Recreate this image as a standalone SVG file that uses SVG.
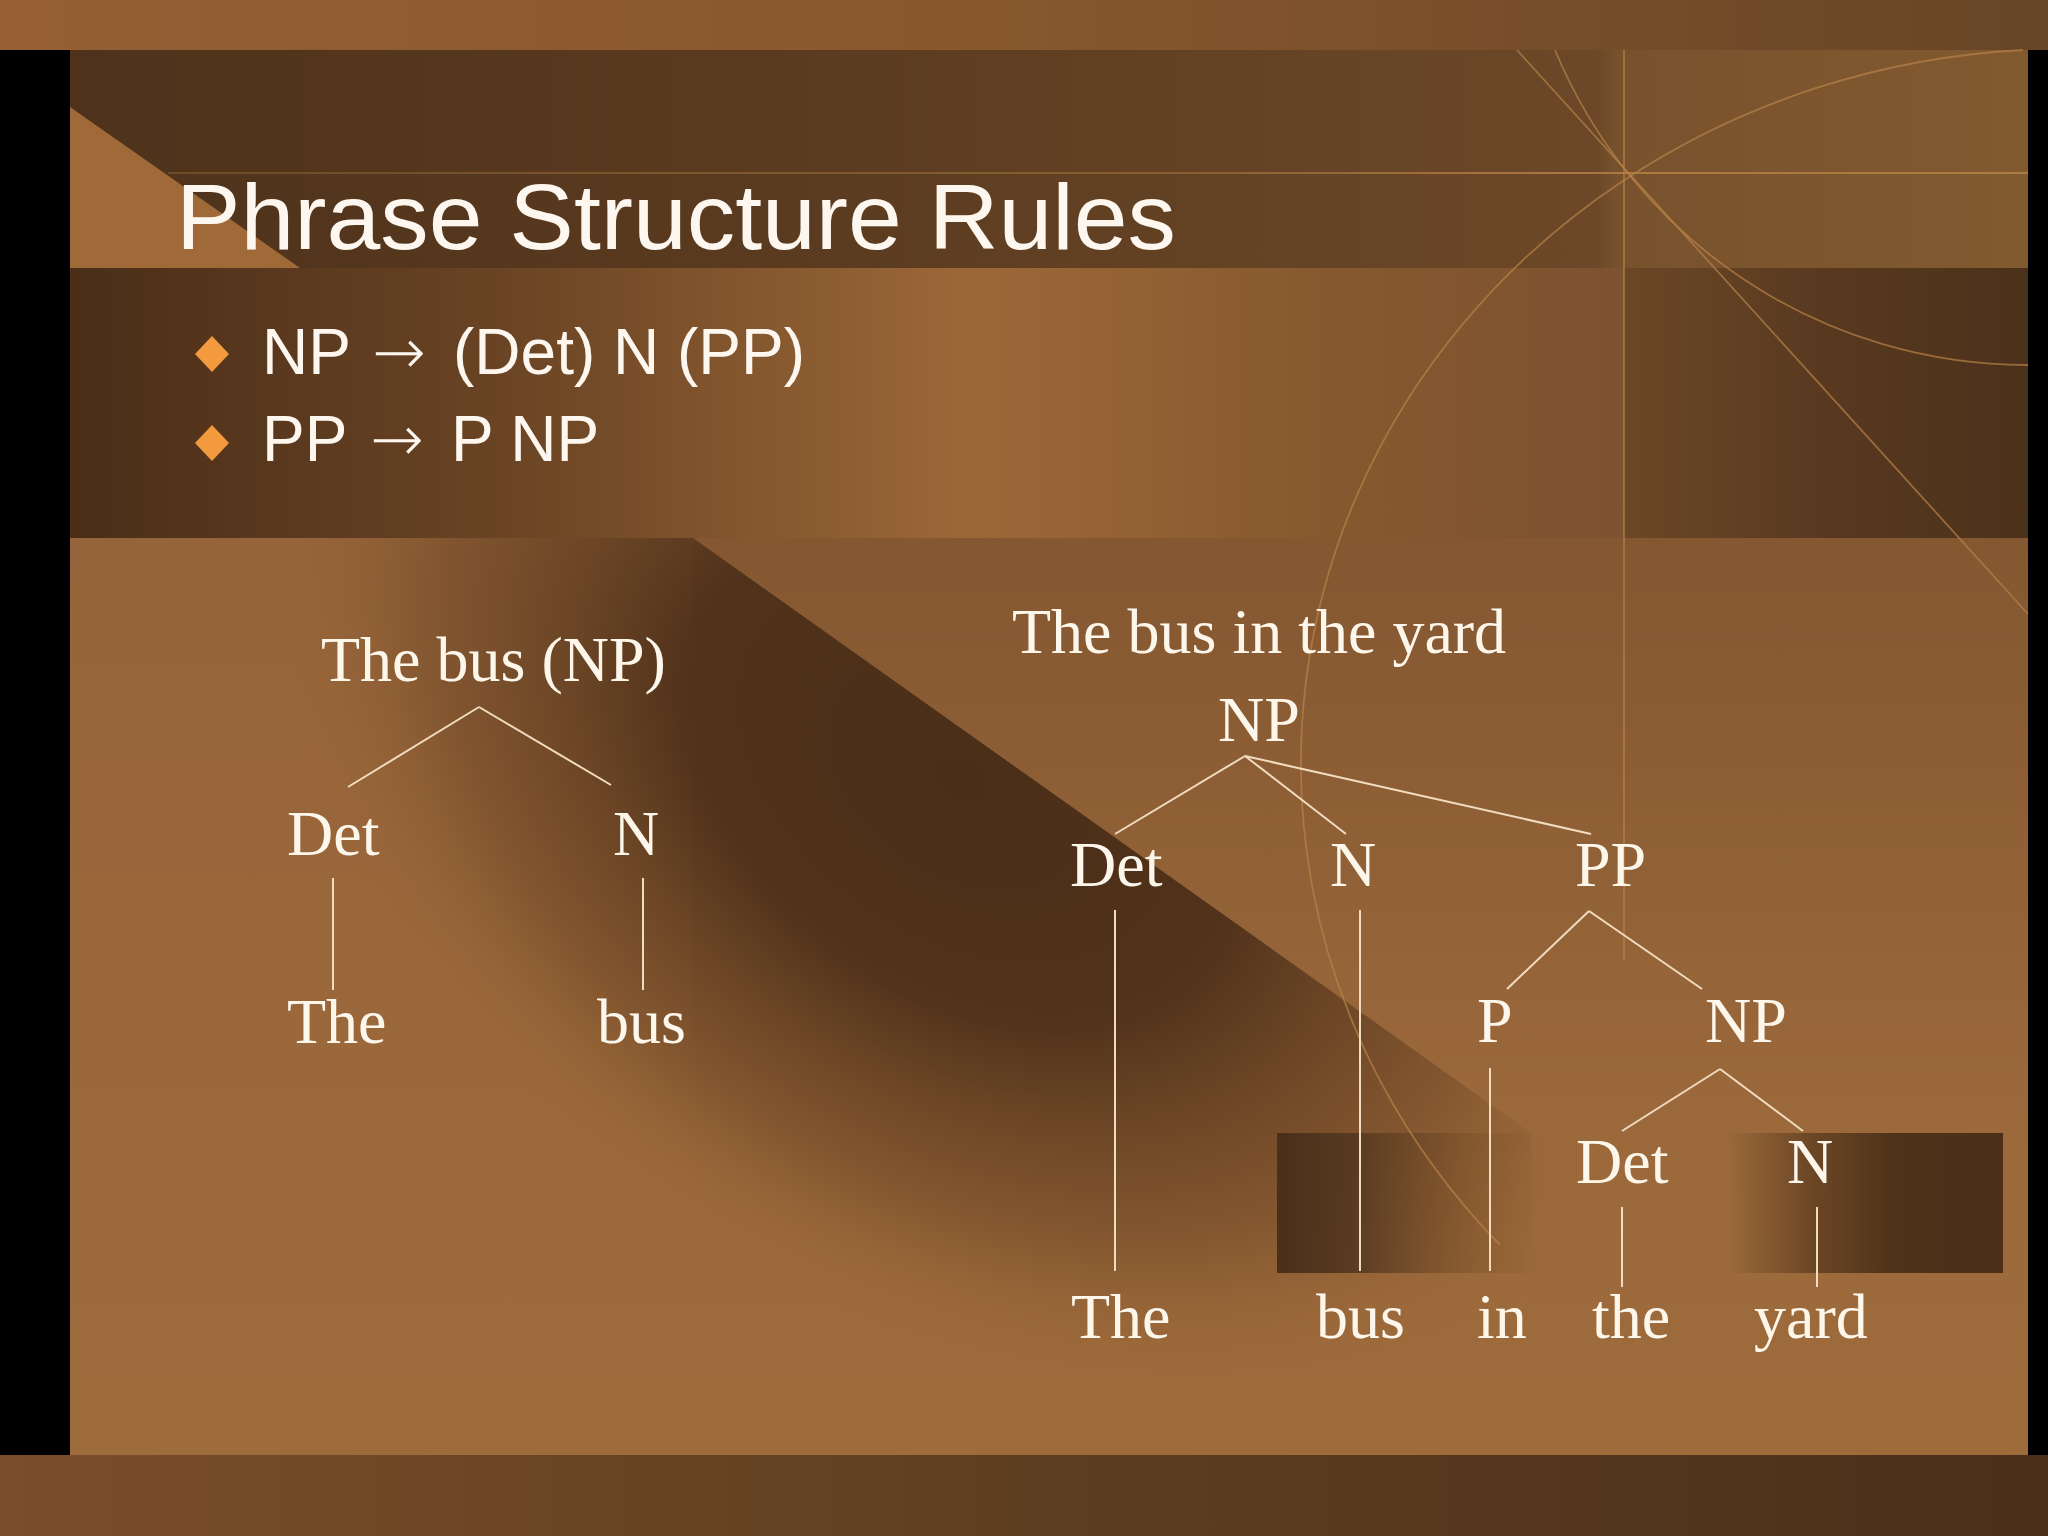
<svg xmlns="http://www.w3.org/2000/svg" width="2048" height="1536" viewBox="0 0 2048 1536">
<defs>
  <style>
    .title{font-family:"Liberation Sans",Arial,sans-serif;fill:#fdf7ef}
    .bullet{font-family:"Liberation Sans",Arial,sans-serif;font-size:64px;fill:#fdf7ef}
    .arrow{font-family:"DejaVu Sans",sans-serif;font-weight:200;font-size:64px}
    .tree{font-family:"Liberation Serif","Times New Roman",serif;font-size:64px;fill:#fdf6ea}
    .edge{stroke:#f2dcc0;stroke-width:2;fill:none}
    .deco{stroke:#b88248;stroke-width:1.8;fill:none;opacity:0.7}
  </style>
  <linearGradient id="gTop" x1="0" y1="0" x2="1" y2="0">
    <stop offset="0" stop-color="#965f34"/><stop offset="0.5" stop-color="#87572e"/><stop offset="1" stop-color="#674526"/>
  </linearGradient>
  <linearGradient id="gBottom" x1="0" y1="0" x2="1" y2="0">
    <stop offset="0" stop-color="#7a4e2a"/><stop offset="0.5" stop-color="#5e3e20"/><stop offset="1" stop-color="#4a301a"/>
  </linearGradient>
  <linearGradient id="gTitle" x1="0" y1="0" x2="1" y2="0">
    <stop offset="0" stop-color="#4e321b"/><stop offset="0.4" stop-color="#5c3c20"/><stop offset="0.78" stop-color="#6c4828"/><stop offset="0.79" stop-color="#78522d"/><stop offset="1" stop-color="#825a30"/>
  </linearGradient>
  <linearGradient id="gTitleLine" x1="168" y1="0" x2="2028" y2="0" gradientUnits="userSpaceOnUse">
    <stop offset="0" stop-color="#b88248" stop-opacity="0.3"/><stop offset="0.55" stop-color="#b88248" stop-opacity="0.45"/><stop offset="0.75" stop-color="#b88248" stop-opacity="0.8"/><stop offset="1" stop-color="#b88248" stop-opacity="0.8"/>
  </linearGradient>
  <linearGradient id="gBody" x1="70" y1="0" x2="1624" y2="0" gradientUnits="userSpaceOnUse">
    <stop offset="0" stop-color="#4a2e18"/><stop offset="0.28" stop-color="#6a4424"/><stop offset="0.58" stop-color="#9c6838"/><stop offset="0.8" stop-color="#88592f"/><stop offset="1" stop-color="#7c5230"/>
  </linearGradient>
  <linearGradient id="gBodyR" x1="1624" y1="0" x2="2028" y2="0" gradientUnits="userSpaceOnUse">
    <stop offset="0" stop-color="#6c4726"/><stop offset="0.5" stop-color="#583920"/><stop offset="1" stop-color="#4c311a"/>
  </linearGradient>
  <linearGradient id="gLower" x1="0" y1="538" x2="0" y2="1455" gradientUnits="userSpaceOnUse">
    <stop offset="0" stop-color="#96643a"/><stop offset="1" stop-color="#9e6b3b"/>
  </linearGradient>
  <linearGradient id="gLowerTop" x1="0" y1="538" x2="0" y2="1100" gradientUnits="userSpaceOnUse">
    <stop offset="0" stop-color="#6e4826" stop-opacity="0.45"/><stop offset="1" stop-color="#6e4826" stop-opacity="0"/>
  </linearGradient>
  <radialGradient id="gWedge" gradientUnits="userSpaceOnUse" cx="0" cy="0" r="1" gradientTransform="translate(960,780) rotate(35.4) scale(760,520)">
    <stop offset="0" stop-color="#4a2e18" stop-opacity="1"/>
    <stop offset="0.4" stop-color="#4e3019" stop-opacity="0.95"/>
    <stop offset="0.75" stop-color="#6a4424" stop-opacity="0.5"/>
    <stop offset="1" stop-color="#9a6636" stop-opacity="0"/>
  </radialGradient>
  <linearGradient id="gBox" x1="1277" y1="0" x2="2003" y2="0" gradientUnits="userSpaceOnUse">
    <stop offset="0" stop-color="#4a2f19" stop-opacity="1"/>
    <stop offset="0.1" stop-color="#553820" stop-opacity="0.95"/>
    <stop offset="0.3" stop-color="#7a5028" stop-opacity="0.3"/>
    <stop offset="0.37" stop-color="#7a5028" stop-opacity="0"/>
    <stop offset="0.62" stop-color="#5a3a1e" stop-opacity="0"/>
    <stop offset="0.74" stop-color="#5a3a1e" stop-opacity="0.75"/>
    <stop offset="0.85" stop-color="#4e3219" stop-opacity="1"/>
    <stop offset="1" stop-color="#4a2f19" stop-opacity="1"/>
  </linearGradient>
</defs>

<g id="background">
  <rect x="0" y="0" width="2048" height="1536" fill="#000"/>
  <rect x="0" y="0" width="2048" height="50" fill="url(#gTop)"/>
  <rect x="0" y="1455" width="2048" height="81" fill="url(#gBottom)"/>
  <rect x="70" y="50" width="1958" height="218" fill="url(#gTitle)"/>
  <polygon points="70,107 300,268 70,268" fill="#a06a38"/>
  <rect x="70" y="268" width="1554" height="270" fill="url(#gBody)"/>
  <rect x="1624" y="268" width="404" height="270" fill="url(#gBodyR)"/>
  <rect x="70" y="538" width="1958" height="917" fill="url(#gLower)"/>
  <rect x="693" y="538" width="1335" height="600" fill="url(#gLowerTop)"/>
  <polygon points="70,538 693,538 1531,1133 1531,1455 70,1455" fill="url(#gWedge)"/>
  <rect x="1277" y="1133" width="726" height="140" fill="url(#gBox)"/>
</g>

<g id="decoration">
  <line x1="168" y1="173" x2="2028" y2="173" stroke="url(#gTitleLine)" stroke-width="2"/>
  <line class="deco" x1="1624" y1="50" x2="1624" y2="960"/>
  <line class="deco" x1="1517" y1="50" x2="2028" y2="614"/>
  <path class="deco" d="M1555,50 A511,511 0 0 0 2028,365"/>
  <path class="deco" d="M2023,50 A765,715 0 0 0 1500,1245"/>
</g>

<g id="title">
  <text class="title" x="176" y="249" font-size="93" textLength="1000" lengthAdjust="spacingAndGlyphs">Phrase Structure Rules</text>
</g>

<g id="rules">
  <polygon points="212,336 229,354 212,372 195,354" fill="#f39a3e"/>
  <text class="bullet" x="262" y="374">NP <tspan class="arrow" x="372">→</tspan> <tspan x="453">(Det) N (PP)</tspan></text>
  <polygon points="212,425 229,443 212,461 195,443" fill="#f39a3e"/>
  <text class="bullet" x="262" y="461">PP <tspan class="arrow" x="370">→</tspan> <tspan x="451">P NP</tspan></text>
</g>

<g id="connectors">
  <line class="edge" x1="479" y1="707" x2="348" y2="787"/>
  <line class="edge" x1="479" y1="707" x2="611" y2="785"/>
  <line class="edge" x1="333" y1="878" x2="333" y2="990"/>
  <line class="edge" x1="643" y1="878" x2="643" y2="990"/>

  <line class="edge" x1="1245" y1="756" x2="1115" y2="834"/>
  <line class="edge" x1="1245" y1="756" x2="1346" y2="834"/>
  <line class="edge" x1="1245" y1="756" x2="1591" y2="834"/>
  <line class="edge" x1="1115" y1="910" x2="1115" y2="1271"/>
  <line class="edge" x1="1360" y1="910" x2="1360" y2="1271"/>
  <line class="edge" x1="1589" y1="911" x2="1507" y2="989"/>
  <line class="edge" x1="1589" y1="911" x2="1702" y2="989"/>
  <line class="edge" x1="1490" y1="1068" x2="1490" y2="1271"/>
  <line class="edge" x1="1720" y1="1069" x2="1622" y2="1131"/>
  <line class="edge" x1="1720" y1="1069" x2="1803" y2="1131"/>
  <line class="edge" x1="1622" y1="1207" x2="1622" y2="1287"/>
  <line class="edge" x1="1817" y1="1207" x2="1817" y2="1287"/>
</g>

<g id="tree1">
  <g id="t1-root"><text class="tree" x="321" y="681">The bus (NP)</text></g>
  <g id="t1-det"><text class="tree" x="287" y="855">Det</text></g>
  <g id="t1-n"><text class="tree" x="613" y="855">N</text></g>
  <g id="t1-the"><text class="tree" x="287" y="1043">The</text></g>
  <g id="t1-bus"><text class="tree" x="597" y="1043">bus</text></g>
</g>

<g id="tree2">
  <g id="t2-caption"><text class="tree" x="1012" y="653">The bus in the yard</text></g>
  <g id="t2-np"><text class="tree" x="1218" y="741">NP</text></g>
  <g id="t2-det"><text class="tree" x="1070" y="886">Det</text></g>
  <g id="t2-n"><text class="tree" x="1330" y="886">N</text></g>
  <g id="t2-pp"><text class="tree" x="1575" y="886">PP</text></g>
  <g id="t2-p"><text class="tree" x="1477" y="1042">P</text></g>
  <g id="t2-np2"><text class="tree" x="1705" y="1042">NP</text></g>
  <g id="t2-det2"><text class="tree" x="1576" y="1183">Det</text></g>
  <g id="t2-n2"><text class="tree" x="1787" y="1183">N</text></g>
  <g id="t2-the"><text class="tree" x="1071" y="1338">The</text></g>
  <g id="t2-bus"><text class="tree" x="1316" y="1338">bus</text></g>
  <g id="t2-in"><text class="tree" x="1477" y="1338">in</text></g>
  <g id="t2-the2"><text class="tree" x="1592" y="1338">the</text></g>
  <g id="t2-yard"><text class="tree" x="1754" y="1338">yard</text></g>
</g>
</svg>
